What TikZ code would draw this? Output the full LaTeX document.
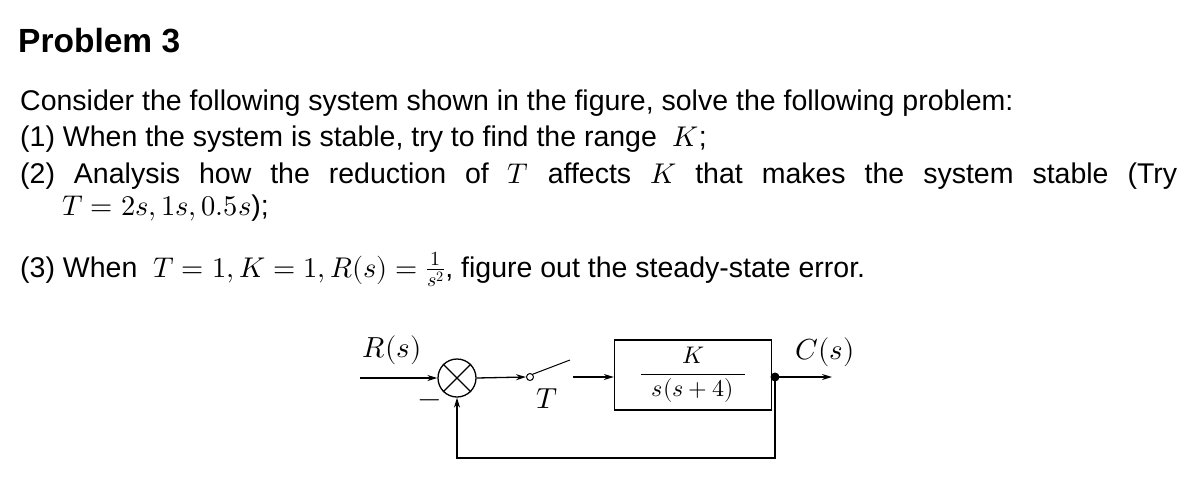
\documentclass[tikz,border=0pt]{standalone}
\usepackage{amsmath}
\usepackage{fontspec}
\usepackage{unicode-math}
\setmainfont{Liberation Sans}
\setmathfont{Latin Modern Math}
\usetikzlibrary{arrows.meta}
\begin{document}
\begin{tikzpicture}[x=1pt,y=-1pt,
  txt/.style={anchor=base west,inner sep=0pt,font=\fontsize{28.5}{32}\selectfont},
  lbl/.style={inner sep=0pt,font=\fontsize{29}{33}\selectfont},
  ln/.style={line width=1.3pt},
  arr/.style={ln,-{Stealth[length=10pt,width=6pt]}}]
\useasboundingbox (0,0) rectangle (1189,490);
\node[anchor=base west,inner sep=0pt,font=\fontsize{33.5}{38}\selectfont\bfseries] (title) at (18,52) {Problem 3};
\node[txt] (l1) at (20,110) {Consider the following system shown in the figure, solve the following problem:};
\node[txt] (l2) at (20,146) {(1) When the system is stable, try to find the range~ $K$;};
\node[txt] (l3) at (20,183) {\makebox[1157pt][s]{(2) Analysis how the reduction of $T$ affects $K$ that makes the system stable (Try}};
\node[txt] (l4) at (62,215) {$T=2s,1s,0.5s$);};
\node[txt] (l5) at (20,277) {(3) When~ $T=1,K=1,R(s)=\frac{1}{s^2}$, figure out the steady-state error.};
% diagram
\node[draw,circle,ln,minimum size=38pt,inner sep=0pt] (sum) at (457,378) {};
\draw[ln] (sum.north west) -- (sum.south east) (sum.north east) -- (sum.south west);
\coordinate (in) at (360,378);
\draw[arr] (in) -- (sum.west);
\node[draw,circle,line width=1pt,minimum size=7pt,inner sep=0pt] (sw) at (530,377) {};
\draw[arr] (sum.east) -- (sw.west);
\coordinate (swend) at (570,360);
\draw[line width=1pt] (sw.north east) -- (swend);
\node[draw,ln,minimum width=157pt,minimum height=70pt,inner sep=0pt] (G) at (693,375) {};
\node[inner sep=0pt,font=\fontsize{24}{28}\selectfont] (frac) at (G.center) {$\dfrac{K}{\;\,s(s+4)\,\;}$};
\coordinate (sa) at (573,377);
\draw[arr] (sa) -- (G.west|-sa);
\coordinate (bp) at (775,377);
\fill (bp) circle (4.5pt);
\draw[ln] (G.east|-bp) -- (bp);
\coordinate (out) at (832,377);
\draw[arr] (bp) -- (out);
\coordinate (fb1) at (775,458);
\coordinate (fb2) at (457,458);
\draw[arr] (bp) -- (fb1) -- (fb2) -- (sum.south);
\node[lbl] (R) at (392,350) {$R(s)$};
\node[lbl] (C) at (825,352) {$C(s)$};
\node[lbl] (T) at (547,399) {$T$};
\node[lbl] (minus) at (430,404) {$-$};
\end{tikzpicture}
\end{document}
